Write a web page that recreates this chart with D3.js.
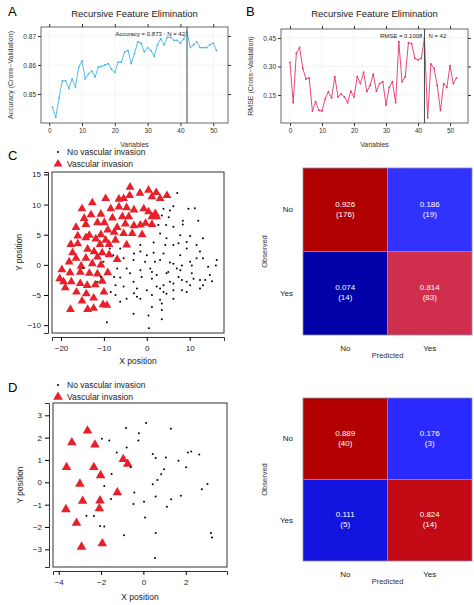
<!DOCTYPE html>
<html><head><meta charset="utf-8">
<script src="https://cdn.jsdelivr.net/npm/d3@7"></script>
<style>body{margin:0;background:#fff}text{font-family:"Liberation Sans",Arial,sans-serif}</style>
</head><body><div id="chart"></div>
<script>
// panel A: accuracy per number of variables (1..51)
let accVars = d3.range(1, 52)
let accVals = [0.8455,0.842,0.8486,0.8545,0.8545,0.852,0.8552,0.8524,0.8593,0.8614,0.8552,0.857,0.8579,0.8559,0.8593,0.8595,0.86,0.8605,0.8585,0.8575,0.861,0.861,0.8645,0.865,0.8605,0.864,0.868,0.8675,0.8645,0.866,0.865,0.863,0.867,0.869,0.867,0.8695,0.8695,0.8685,0.8685,0.8675,0.869,0.8714,0.866,0.867,0.868,0.866,0.866,0.866,0.867,0.8675,0.865]
// panel B: RMSE per number of variables (0..52)
let rmseVars = d3.range(0, 53)
let rmseVals = [0.322,0.11,0.37,0.40,0.29,0.234,0.24,0.066,0.115,0.07,0.066,0.13,0.168,0.135,0.246,0.14,0.155,0.14,0.11,0.17,0.14,0.246,0.21,0.27,0.168,0.2,0.26,0.17,0.21,0.22,0.097,0.19,0.22,0.11,0.43,0.22,0.246,0.425,0.42,0.343,0.335,0.343,0.448,0.03,0.313,0.29,0.2,0.07,0.21,0.19,0.305,0.21,0.24]

// panel C scatter
let cInvasion = [[-3.9,12.9],[-1.6,11.9],[0.4,12.4],[2.2,12],[4.7,11.5],[3.1,11],[1.2,11.3],[-4,11.5],[-5.4,11],[-6.5,10.9],[-9.6,11],[-12.7,10.3],[-15.1,9.3],[-8.4,9.3],[-6.5,9.6],[-4.7,9.5],[-3,9.1],[-0.7,9.3],[0.4,8.8],[2,8.5],[2.3,8],[1.2,8],[-10.7,8.4],[-13,8.3],[-14.6,7.7],[-8,7.8],[-5.7,8],[-4.2,8],[-9.9,7],[-11.5,7],[-14.2,6.7],[-16.5,6.2],[-6.9,6.2],[-5,6.8],[-3,6.5],[-1.5,6.6],[-0.3,6.9],[1.2,6.7],[-9.1,5.8],[-10.7,5],[-13.4,4.9],[-16.1,4.8],[-7.6,5.4],[-5.4,5.2],[-3.4,5.2],[-1.1,5],[-7.3,4.1],[-9.6,4.1],[-11.9,4.3],[-14.2,4.5],[-17.7,3.4],[-16.1,3.5],[-10.9,3.4],[-8.8,3.4],[-4.7,3.3],[-13.8,2.6],[-17.3,2],[-10.4,2],[-12.3,2.2],[-16.5,1.1],[-14.2,1.1],[-11.5,1.3],[-8.8,1.7],[-18.1,0.5],[-6.9,0.9],[-12.7,0.2],[-10.7,0],[-15.3,-0.2],[-19.8,-0.8],[-17.9,-1.3],[-15.5,-1.2],[-13.4,-1.4],[-11.5,-1.5],[-9.1,-1.3],[-20.3,-2.3],[-19.4,-2.8],[-17.6,-2.8],[-15.5,-3.1],[-13.9,-3.4],[-12,-3.3],[-10.4,-2.7],[-19,-3.8],[-16.4,-4.5],[-14.1,-4.8],[-10,-4.5],[-12.4,-5.5],[-15.1,-6],[-10.2,-6.6],[-9.3,-6.7],[-17.8,-7.4],[-13.8,-7.4],[-12.4,-7.2]]
let cNoInvasion = [[7.1,11.9],[6.2,9.7],[9.7,9.3],[11.2,9.4],[12,7.3],[8.4,7.3],[8.4,6.7],[6.2,6.3],[4.5,6.6],[2.7,6.6],[7.8,4.9],[10.1,4.8],[13.1,4.4],[4.6,4.4],[3.1,5.2],[1.6,3.7],[-1.5,3.3],[-6.2,2.7],[-1.5,2.2],[1.6,2],[3.9,1.9],[7.8,1.6],[9.3,2.7],[12.4,2.2],[16.3,0.8],[16.1,-0.1],[14.3,-0.3],[11.6,1.1],[10.1,0.5],[6.2,0.2],[5.4,0.4],[3.1,0.8],[-0.4,0.5],[-3.1,0.8],[-5.4,1.1],[-7.8,1.6],[-10.1,0.5],[-14.8,-0.5],[-4.7,-0.6],[-1.5,-0.9],[0.8,-0.6],[2.3,-1.7],[4.6,-1.4],[7.8,-0.9],[10.5,-1.4],[10.9,-2.3],[12.4,-2.5],[13.6,-2.5],[15.2,-2.7],[9.3,-2.8],[8.2,-2.5],[6.2,-3.1],[5.4,-2.8],[3.9,-3.4],[2.3,-3.6],[1.2,-2.3],[-1.2,-2],[-3.1,-2.8],[-3.9,-1.4],[-6.2,-2.1],[-7.3,-3.4],[-5.4,-3.6],[-2.3,-3.9],[0,-4.2],[3.1,-3.9],[3.9,-4.5],[6.2,-4.2],[8.2,-4.2],[1.2,-5],[-2.3,-5.3],[-4.7,-5.6],[-6.2,-6.1],[3.1,-5.8],[3.5,-6.4],[1.2,-7],[3.5,-7.5],[-3.1,-8.1],[0.4,-8.4],[3.5,-9],[-9.3,-9.5],[0.5,-10.5],[12.4,-3.9],[13.1,-3.4],[14.7,-1.7],[9.3,-4.5],[6.2,-5.6],[5,-1.2],[7.4,-2],[1.9,0.5],[0,1.6],[6.2,3.3],[9.3,3.8],[7.4,3.6],[11.6,3.3],[13.1,1.1],[10.5,-0.1],[8.2,-0.1],[4.3,3.3],[3.5,8.2],[5.1,7.9],[5.4,9],[3.9,9.3],[-7.6,-2],[-10.7,-2],[-8.4,-4.5],[-11.5,-2.8],[-6.9,-0.6],[-8.6,2.7],[-3,1.9],[-7.3,-5],[-1.5,-5.6],[4.6,-4.8],[10.1,-3.4],[7,-0.6],[1.2,-1.2],[-3,-4.7]]

// panel D scatter
let dInvasion = [[-2.64,2.31],[-3.38,1.78],[-2.29,1.68],[-3.63,0.67],[-2.34,0.67],[-2.02,0.31],[-0.95,1.03],[-0.74,0.82],[-3.0,-0.07],[-1.23,-0.46],[-2.87,-0.84],[-2.05,-0.82],[-3.66,-1.21],[-2.08,-1.17],[-3.16,-1.82],[-1.94,-2.74],[-2.92,-2.89]]
let dNoInvasion = [[-0.82,2.43],[0.13,2.65],[1.3,2.4],[-0.21,2.2],[-0.24,1.87],[-1.96,1.95],[-1.61,1.87],[-1.26,1.33],[-0.79,1.56],[0.44,1.27],[0.58,1.09],[1.06,1.11],[1.66,0.97],[2.1,1.33],[2.26,1.38],[2.64,1.24],[2.02,0.67],[0.98,0.58],[0.84,0.36],[0.66,0.1],[0.44,-0.09],[-0.6,0.67],[-1.5,0.37],[-1.85,-0.16],[-0.43,-0.46],[-1.53,-0.75],[-0.47,-0.97],[0.03,-0.87],[0.58,-0.64],[1.31,-0.76],[1.77,-0.6],[1.11,-1.09],[2.76,-0.31],[3.03,-0.07],[-2.69,-1.5],[-2.34,-1.51],[-2.05,-1.95],[-1.85,-1.98],[0.08,-1.57],[-0.92,-2.37],[0.58,-2.27],[3.19,-2.27],[3.24,-2.47],[0.55,-3.39]]

// confusion matrices
let classes = ["No", "Yes"]
let cmC = [{obs:"No",pred:"No",p:"0.926",n:176,fill:"#b10000"},{obs:"No",pred:"Yes",p:"0.186",n:19,fill:"#3232ff"},
           {obs:"Yes",pred:"No",p:"0.074",n:14,fill:"#0000a8"},{obs:"Yes",pred:"Yes",p:"0.814",n:83,fill:"#cf2e4c"}]
let cmD = [{obs:"No",pred:"No",p:"0.889",n:40,fill:"#b30000"},{obs:"No",pred:"Yes",p:"0.176",n:3,fill:"#2a2aff"},
           {obs:"Yes",pred:"No",p:"0.111",n:5,fill:"#1414e0"},{obs:"Yes",pred:"Yes",p:"0.824",n:14,fill:"#c40a14"}]

let svg = d3.select("#chart").append("svg").attr("width", 474).attr("height", 605)

function letter(t, x, y) {
    svg.append("text").attr("x", x).attr("y", y).attr("font-size", 13).text(t)
}

// lattice-like RFE panel
function rfePanel(o) {
    let x = d3.scaleLinear().domain(o.xd).range([o.l, o.r])
    let y = d3.scaleLinear().domain(o.yd).range([o.b, o.t])
    let g = svg.append("g")
    g.append("text").attr("x", (o.l + o.r) / 2).attr("y", 17).attr("text-anchor", "middle")
        .attr("font-size", 9.5).attr("fill", "#222").text("Recursive Feature Elimination")
    // faint grid
    g.selectAll(".gx").data(o.xt).enter().append("line")
        .attr("x1", d => x(d)).attr("x2", d => x(d)).attr("y1", o.t).attr("y2", o.b).attr("stroke", "#eee").attr("stroke-width", 0.6)
    g.selectAll(".gy").data(o.yt).enter().append("line")
        .attr("y1", d => y(d)).attr("y2", d => y(d)).attr("x1", o.l).attr("x2", o.r).attr("stroke", "#eee").attr("stroke-width", 0.6)
    let ax = [d3.axisBottom(x).tickValues(o.xt).tickSize(3).tickPadding(2), o.b,
              d3.axisTop(x).tickValues(o.xt).tickSize(3).tickFormat(""), o.t]
    g.append("g").attr("transform", "translate(0," + o.b + ")").call(ax[0])
    g.append("g").attr("transform", "translate(0," + o.t + ")").call(ax[2])
    g.append("g").attr("transform", "translate(" + o.l + ",0)").call(d3.axisLeft(y).tickValues(o.yt).tickFormat(o.fmt).tickSize(3).tickPadding(2))
    g.append("g").attr("transform", "translate(" + o.r + ",0)").call(d3.axisRight(y).tickValues(o.yt).tickFormat("").tickSize(3))
    g.selectAll(".domain").remove()
    g.selectAll(".tick line").attr("stroke", "#333")
    g.selectAll(".tick text").attr("font-size", 6.5).attr("fill", "#333")
    g.append("rect").attr("x", o.l).attr("y", o.t).attr("width", o.r - o.l).attr("height", o.b - o.t)
        .attr("fill", "none").attr("stroke", "#444").attr("stroke-width", 0.8)
    let line = d3.line().x((d, i) => x(o.xs[i])).y(d => y(d))
    g.append("path").datum(o.ys).attr("d", line).attr("fill", "none").attr("stroke", o.col).attr("stroke-width", 0.9)
    g.selectAll(".pt").data(o.ys).enter().append("circle")
        .attr("cx", (d, i) => x(o.xs[i])).attr("cy", d => y(d)).attr("r", 0.9).attr("fill", o.col)
    g.append("line").attr("x1", x(42)).attr("x2", x(42)).attr("y1", o.t).attr("y2", o.b).attr("stroke", "#444").attr("stroke-width", 1)
    g.append("text").attr("x", x(42) - 2).attr("y", o.t + 9).attr("text-anchor", "end").attr("font-size", 6).attr("fill", "#222").text(o.ann)
    g.append("text").attr("x", x(42) + (o.annR ? 4 : 2)).attr("y", o.t + 9).attr("font-size", 6).attr("fill", "#222").text(o.annR || "")
    g.append("text").attr("x", (o.l + o.r) / 2).attr("y", 147).attr("text-anchor", "middle").attr("font-size", 7).attr("fill", "#333").text("Variables")
    g.append("text").attr("transform", "translate(" + (o.l - 28) + "," + ((o.t + o.b) / 2) + ") rotate(-90)")
        .attr("text-anchor", "middle").attr("font-size", 7).attr("fill", "#333").text(o.ylab)
}

rfePanel({l: 41, r: 228, t: 27, b: 123, xd: [-2.5, 54.5], yd: [0.84, 0.8731], xt: [0, 10, 20, 30, 40, 50], yt: [0.85, 0.86, 0.87],
    fmt: d3.format(".2f"), xs: accVars, ys: accVals, col: "#3fb7e3", ann: "Accuracy = 0.873 · N = 42", ylab: "Accuracy (Cross−Validation)"})
rfePanel({l: 281, r: 468, t: 29, b: 123, xd: [-2.8, 55.6], yd: [0.003, 0.497], xt: [0, 10, 20, 30, 40, 50], yt: [0.15, 0.30, 0.45],
    fmt: d3.format(".2f"), xs: rmseVars, ys: rmseVals, col: "#e4336d", ann: "RMSE = 0.1008", annR: "N = 42", ylab: "RMSE (Cross−Validation)"})
letter("A", 8, 16)
letter("B", 246, 16)

// base-R-like scatter panel
function scatterPanel(o) {
    let x = d3.scaleLinear().domain(o.xd).range([o.l, o.r])
    let y = d3.scaleLinear().domain(o.yd).range([o.b, o.t])
    let g = svg.append("g")
    let bx = g.append("g").attr("transform", "translate(0," + (o.b + 4) + ")")
        .call(d3.axisBottom(x).tickValues(o.xt).tickSize(4).tickPadding(4).tickFormat(d => d < 0 ? "−" + (-d) : d))
    let by = g.append("g").attr("transform", "translate(" + (o.l - 4) + ",0)")
        .call(d3.axisLeft(y).tickValues(o.yt).tickSize(4).tickPadding(3).tickFormat(d => d < 0 ? "−" + (-d) : d))
    g.selectAll(".domain").attr("stroke", "#333")
    g.selectAll(".tick text").attr("font-size", 8).attr("fill", "#222")
    g.append("rect").attr("x", o.l).attr("y", o.t).attr("width", o.r - o.l).attr("height", o.b - o.t)
        .attr("fill", "none").attr("stroke", "#333").attr("stroke-width", 1)
    let tri = d3.symbol().type(d3.symbolTriangle).size(o.ts)
    g.selectAll(".tri").data(o.inv).enter().append("path").attr("d", tri)
        .attr("transform", d => "translate(" + x(d[0]) + "," + y(d[1]) + ")").attr("fill", "#e8202a")
    g.selectAll(".dot").data(o.noinv).enter().append("circle")
        .attr("cx", d => x(d[0])).attr("cy", d => y(d[1])).attr("r", 1).attr("fill", "#000")
    g.append("text").attr("x", (o.l + o.r) / 2).attr("y", o.xlabY).attr("text-anchor", "middle").attr("font-size", 8.5).attr("fill", "#222").text("X position")
    g.append("text").attr("transform", "translate(" + (o.l - 30) + "," + ((o.t + o.b) / 2) + ") rotate(-90)")
        .attr("text-anchor", "middle").attr("font-size", 8.5).attr("fill", "#222").text("Y position")
    // legend
    g.append("circle").attr("cx", 58).attr("cy", o.legY - 3).attr("r", 1).attr("fill", "#000")
    g.append("text").attr("x", 67).attr("y", o.legY).attr("font-size", 8.5).attr("fill", "#222").text("No vascular invasion")
    g.append("path").attr("d", tri).attr("transform", "translate(58," + (o.legY + 9) + ")").attr("fill", "#e8202a")
    g.append("text").attr("x", 67).attr("y", o.legY + 12).attr("font-size", 8.5).attr("fill", "#222").text("Vascular invasion")
}

scatterPanel({l: 52, r: 224, t: 172, b: 333, xd: [-22.1, 18], yd: [-11.3, 15.4], xt: [-20, -10, 0, 10], yt: [-10, -5, 0, 5, 10, 15],
    inv: cInvasion, noinv: cNoInvasion, ts: 34, xlabY: 364, legY: 155})
scatterPanel({l: 53, r: 227, t: 403, b: 567, xd: [-4.27, 3.95], yd: [-3.79, 3.55], xt: [-4, -2, 0, 2], yt: [-3, -2, -1, 0, 1, 2, 3],
    inv: dInvasion, noinv: dNoInvasion, ts: 40, xlabY: 600, legY: 388})
letter("C", 8, 160)
letter("D", 8, 392)

// confusion matrix heatmap
function heatPanel(o) {
    let x = d3.scaleBand().domain(classes).range([o.l, o.r])
    let y = d3.scaleBand().domain(classes).range([o.t, o.b])
    let g = svg.append("g")
    g.selectAll(".cell").data(o.cm).enter().append("rect")
        .attr("x", d => x(d.pred)).attr("y", d => y(d.obs)).attr("width", x.bandwidth()).attr("height", y.bandwidth())
        .attr("fill", d => d.fill).attr("stroke", "#8a8ab0").attr("stroke-width", 0.8)
    g.selectAll(".lab1").data(o.cm).enter().append("text")
        .attr("x", d => x(d.pred) + x.bandwidth() / 2).attr("y", d => y(d.obs) + y.bandwidth() / 2 - 3)
        .attr("text-anchor", "middle").attr("font-size", 8).attr("fill", "#fff").text(d => d.p)
    g.selectAll(".lab2").data(o.cm).enter().append("text")
        .attr("x", d => x(d.pred) + x.bandwidth() / 2).attr("y", d => y(d.obs) + y.bandwidth() / 2 + 7)
        .attr("text-anchor", "middle").attr("font-size", 8).attr("fill", "#fff").text(d => "(" + d.n + ")")
    g.append("g").attr("transform", "translate(0," + (o.b + 4) + ")").call(d3.axisBottom(x).tickSize(0).tickPadding(6))
    g.append("g").attr("transform", "translate(" + (o.l - 4) + ",0)").call(d3.axisLeft(y).tickSize(0).tickPadding(6))
    g.selectAll(".domain").remove()
    g.selectAll(".tick text").attr("font-size", 8).attr("fill", "#222")
    g.append("text").attr("x", (o.l + o.r) / 2).attr("y", o.b + 23).attr("text-anchor", "middle").attr("font-size", 7.5).attr("fill", "#333").text("Predicted")
    g.append("text").attr("transform", "translate(" + (o.l - 36) + "," + ((o.t + o.b) / 2) + ") rotate(-90)")
        .attr("text-anchor", "middle").attr("font-size", 7.5).attr("fill", "#333").text("Observed")
}

heatPanel({l: 303, r: 472, t: 168, b: 335, cm: cmC})
heatPanel({l: 303, r: 472, t: 398, b: 561, cm: cmD})
</script></body></html>
